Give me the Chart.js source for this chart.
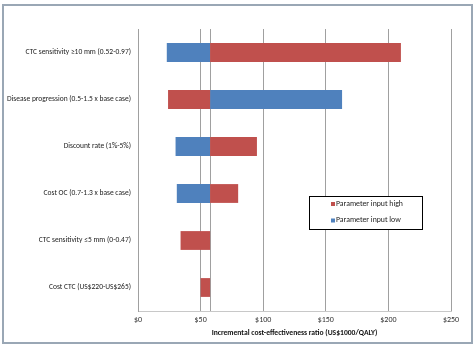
<!DOCTYPE html>
<html>
<head>
<meta charset="utf-8">
<script src="https://cdn.jsdelivr.net/npm/chart.js@4"></script>
<style>
  html, body { margin: 0; padding: 0; background: #fff; }
  #wrap { position: relative; width: 474px; height: 352px; }
  #frame { position: absolute; left: 2px; top: 4px; width: 471px; height: 340px; box-sizing: border-box; border: 2px solid #9aa7b5; pointer-events: none; }
</style>
</head>
<body>
<div id="wrap">
  <canvas id="c" width="474" height="352"></canvas>
  <div id="frame"></div>
</div>
<script>
const categories = [
  "CTC sensitivity \u226510 mm (0.52-0.97)",
  "Disease progression (0.5-1.5 x base case)",
  "Discount rate (1%-5%)",
  "Cost OC (0.7-1.3 x base case)",
  "CTC sensitivity \u22645 mm (0-0.47)",
  "Cost CTC (US$220-US$265)"
];
const baseCase = 57.6;
const highValues = [210, 24, 95, 80, 34, 50];
const lowValues = [23, 163, 30, 31, null, null];
const xTicks = [0, 50, 100, 150, 200, 250];
const seriesLabels = ["Parameter input high", "Parameter input low"];
const axisTitle = "Incremental cost-effectiveness ratio (US$1000/QALY)";

const RED = "#c0504d";
const BLUE = "#4f81bd";
const FONT = "Carlito, 'Liberation Sans Narrow', 'Open Sans', sans-serif";

const toRange = v => (v == null ? null : [baseCase, v]);

const baseLinePlugin = {
  id: "baseLine",
  beforeDatasetsDraw(chart) {
    const { ctx, chartArea, scales } = chart;
    const x = Math.round(scales.x.getPixelForValue(baseCase)) + 0.5;
    ctx.save();
    ctx.strokeStyle = "#a0a0a0";
    ctx.lineWidth = 1;
    ctx.beginPath();
    ctx.moveTo(x, chartArea.top);
    ctx.lineTo(x, chartArea.bottom);
    ctx.stroke();
    ctx.restore();
  }
};

const boxLegendPlugin = {
  id: "boxLegend",
  afterDraw(chart) {
    const { ctx } = chart;
    const left = 309, top = 196, w = 113, h = 33;
    ctx.save();
    ctx.fillStyle = "#fff";
    ctx.fillRect(left, top, w, h);
    ctx.strokeStyle = "#000";
    ctx.lineWidth = 1;
    ctx.strokeRect(left + 0.5, top + 0.5, w, h);
    ctx.font = "7.8px " + FONT;
    ctx.textBaseline = "middle";
    chart.data.datasets.forEach((ds, i) => {
      const y = top + 8 + i * 16.5;
      ctx.fillStyle = ds.backgroundColor;
      ctx.fillRect(left + 22, y - 2, 4, 4);
      ctx.fillStyle = "#222";
      ctx.fillText(ds.label, left + 27, y);
    });
    ctx.restore();
  }
};

new Chart(document.getElementById("c"), {
  type: "bar",
  data: {
    labels: categories,
    datasets: [
      { label: seriesLabels[0], data: highValues.map(toRange), backgroundColor: RED, grouped: false, barPercentage: 0.4, categoryPercentage: 1 },
      { label: seriesLabels[1], data: lowValues.map(toRange), backgroundColor: BLUE, grouped: false, barPercentage: 0.4, categoryPercentage: 1 }
    ]
  },
  options: {
    indexAxis: "y",
    responsive: false,
    animation: false,
    layout: { padding: { top: 29, right: 23, left: 0, bottom: 0 } },
    plugins: { legend: { display: false }, tooltip: { enabled: false } },
    scales: {
      x: {
        min: 0, max: 250,
        afterBuildTicks(scale) { scale.ticks = xTicks.map(v => ({ value: v })); },
        afterFit(scale) { scale.height = 41; },
        ticks: { callback: v => "$" + v, font: { family: FONT, size: 8 }, color: "#333", padding: 4, maxRotation: 0 },
        grid: { color: "#a0a0a0", drawTicks: false },
        border: { display: true, color: "#c8c8c8" },
        title: { display: true, text: axisTitle, font: { family: FONT, size: 7.6, weight: "bold" }, color: "#111", padding: { top: 0, bottom: 14 } }
      },
      y: {
        afterFit(scale) { scale.width = 138; },
        ticks: { font: { family: FONT, size: 7.5 }, color: "#222", padding: 7 },
        grid: { display: false, drawTicks: false },
        border: { display: true, color: "#a0a0a0" }
      }
    }
  },
  plugins: [baseLinePlugin, boxLegendPlugin]
});
</script>
</body>
</html>
